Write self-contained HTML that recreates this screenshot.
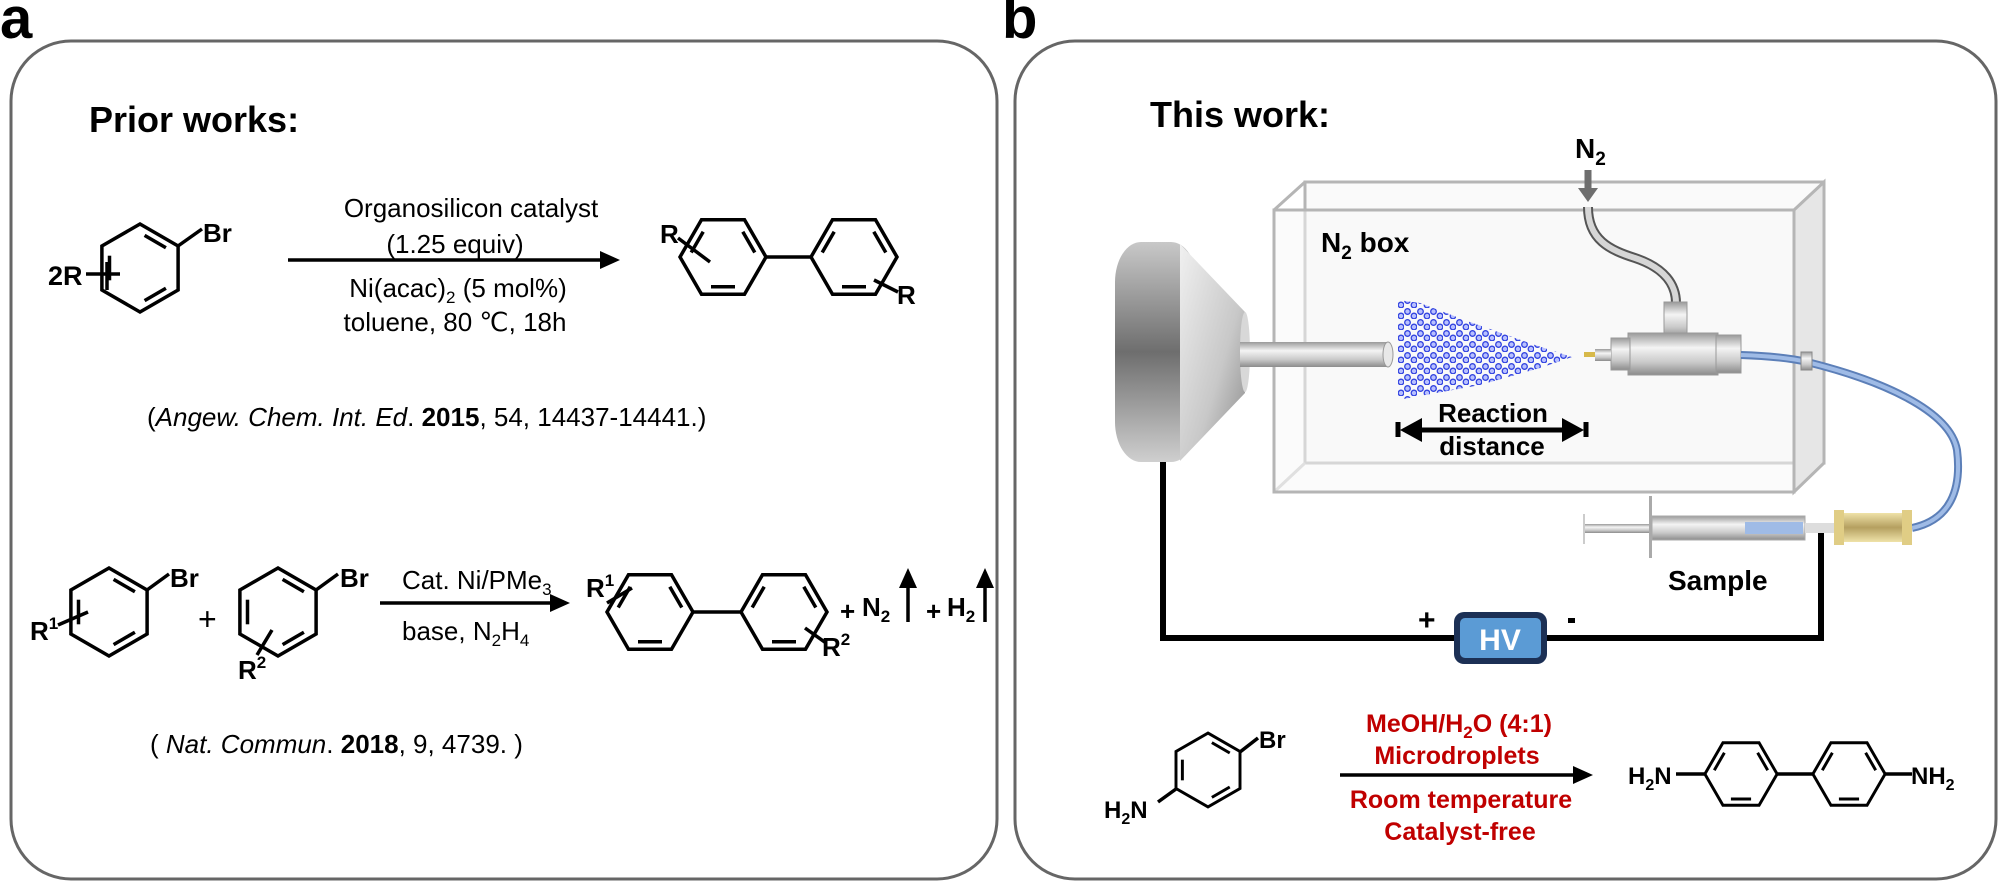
<!DOCTYPE html>
<html><head><meta charset="utf-8"><style>
html,body{margin:0;padding:0;background:#fff;}
svg{display:block;font-family:"Liberation Sans",Arial,sans-serif;}
</style></head><body>
<svg width="2000" height="884" viewBox="0 0 2000 884" xmlns="http://www.w3.org/2000/svg">
<defs>
  <g id="hp" fill="none" stroke="#000" stroke-width="3.5" stroke-linejoin="miter">
    <polygon points="0,-44 38.1,-22 38.1,22 0,44 -38.1,22 -38.1,-22"/>
    <line x1="4.6" y1="-32.6" x2="25.9" y2="-20.2"/>
    <line x1="25.9" y1="20.2" x2="4.6" y2="32.6"/>
    <line x1="-30.5" y1="12.3" x2="-30.5" y2="-12.3"/>
  </g>
  <g id="hf" fill="none" stroke="#000" stroke-width="3.5">
    <polygon points="43,0 21.5,37.2 -21.5,37.2 -43,0 -21.5,-37.2 21.5,-37.2"/>
    <line x1="19.8" y1="-25.3" x2="31.8" y2="-4.5"/>
    <line x1="12" y1="29.8" x2="-12" y2="29.8"/>
    <line x1="-31.8" y1="-4.5" x2="-19.8" y2="-25.3"/>
  </g>
  <marker id="ah" markerWidth="8" markerHeight="8" refX="7" refY="4" orient="auto" markerUnits="userSpaceOnUse">
  </marker>
  <linearGradient id="disk" x1="0" y1="0" x2="0" y2="1">
    <stop offset="0" stop-color="#c8c8c8"/><stop offset="0.5" stop-color="#6e6e6e"/><stop offset="1" stop-color="#cfcfcf"/>
  </linearGradient>
  <linearGradient id="cone" x1="0" y1="0" x2="1" y2="1">
    <stop offset="0" stop-color="#f0f0f0"/><stop offset="0.6" stop-color="#c8c8c8"/><stop offset="1" stop-color="#8a8a8a"/>
  </linearGradient>
  <linearGradient id="rod" x1="0" y1="0" x2="0" y2="1">
    <stop offset="0" stop-color="#9a9a9a"/><stop offset="0.35" stop-color="#f4f4f4"/><stop offset="0.7" stop-color="#c9c9c9"/><stop offset="1" stop-color="#8c8c8c"/>
  </linearGradient>
  <linearGradient id="gold" x1="0" y1="0" x2="0" y2="1">
    <stop offset="0" stop-color="#efe2a8"/><stop offset="0.5" stop-color="#b5a060"/><stop offset="1" stop-color="#efe2a8"/>
  </linearGradient>
  <pattern id="drops" width="13" height="11" patternUnits="userSpaceOnUse">
    <circle cx="3.5" cy="3.5" r="2.8" fill="#b8c0ff" stroke="#3344e0" stroke-width="1.3"/>
    <circle cx="10" cy="8" r="2.8" fill="#b8c0ff" stroke="#3344e0" stroke-width="1.3"/>
  </pattern>
</defs>

<!-- Panel a -->
<text x="0" y="38" font-size="58" font-weight="bold">a</text>
<rect x="11" y="41" width="986" height="838" rx="60" fill="none" stroke="#666" stroke-width="3"/>
<text x="89" y="132" font-size="36" font-weight="bold">Prior works:</text>

<!-- reaction 1 -->
<use href="#hp" x="140" y="268"/>
<line x1="178" y1="246" x2="202" y2="229" stroke="#000" stroke-width="3.5"/>
<text x="203" y="242" font-size="26" font-weight="bold">Br</text>
<text x="48" y="285" font-size="27" font-weight="bold">2R</text>
<line x1="86" y1="274" x2="120" y2="274" stroke="#000" stroke-width="3.5"/>
<line x1="107" y1="262" x2="107" y2="290" stroke="#000" stroke-width="3.5"/>
<line x1="288" y1="260" x2="605" y2="260" stroke="#000" stroke-width="3.5"/>
<polygon points="620,260 600,251 600,269" fill="#000"/>
<g font-size="26" text-anchor="middle">
<text x="471" y="217">Organosilicon catalyst</text>
<text x="455" y="253">(1.25 equiv)</text>
<text x="458" y="297">Ni(acac)<tspan font-size="17" dy="6">2</tspan><tspan dy="-6"> (5 mol%)</tspan></text>
<text x="455" y="331">toluene, 80 ℃, 18h</text>
</g>
<use href="#hf" x="723" y="257"/>
<use href="#hf" x="854" y="257"/>
<line x1="766" y1="257" x2="811" y2="257" stroke="#000" stroke-width="3.5"/>
<text x="660" y="243" font-size="26" font-weight="bold">R</text>
<line x1="678" y1="238" x2="710" y2="262" stroke="#000" stroke-width="3.5"/>
<text x="897" y="304" font-size="26" font-weight="bold">R</text>
<line x1="874" y1="280" x2="898" y2="292" stroke="#000" stroke-width="3.5"/>
<text x="147" y="426" font-size="26">(<tspan font-style="italic">Angew. Chem. Int. Ed</tspan>. <tspan font-weight="bold">2015</tspan>, 54, 14437-14441.)</text>

<!-- reaction 2 -->
<use href="#hp" x="109" y="612"/>
<line x1="147" y1="590" x2="169" y2="574" stroke="#000" stroke-width="3.5"/>
<text x="170" y="587" font-size="26" font-weight="bold">Br</text>
<text x="30" y="640" font-size="26" font-weight="bold">R<tspan font-size="17" dy="-11">1</tspan></text>
<line x1="58" y1="625" x2="88" y2="612" stroke="#000" stroke-width="3.5"/>
<text x="198" y="630" font-size="32">+</text>
<use href="#hp" x="278" y="612"/>
<line x1="316" y1="590" x2="338" y2="574" stroke="#000" stroke-width="3.5"/>
<text x="340" y="587" font-size="26" font-weight="bold">Br</text>
<text x="238" y="679" font-size="26" font-weight="bold">R<tspan font-size="17" dy="-11">2</tspan></text>
<line x1="257" y1="655" x2="272" y2="630" stroke="#000" stroke-width="3.5"/>
<line x1="380" y1="603" x2="555" y2="603" stroke="#000" stroke-width="3.5"/>
<polygon points="570,603 550,594 550,612" fill="#000"/>
<text x="402" y="589" font-size="26">Cat. Ni/PMe<tspan font-size="17" dy="6">3</tspan></text>
<text x="402" y="640" font-size="26">base, N<tspan font-size="17" dy="6">2</tspan><tspan dy="-6">H</tspan><tspan font-size="17" dy="6">4</tspan></text>
<use href="#hf" x="650" y="612"/>
<use href="#hf" x="784" y="612"/>
<line x1="693" y1="612" x2="741" y2="612" stroke="#000" stroke-width="3.5"/>
<text x="586" y="597" font-size="26" font-weight="bold">R<tspan font-size="17" dy="-11">1</tspan></text>
<line x1="607" y1="603" x2="632" y2="588" stroke="#000" stroke-width="3.5"/>
<text x="822" y="656" font-size="26" font-weight="bold">R<tspan font-size="17" dy="-11">2</tspan></text>
<line x1="805" y1="628" x2="826" y2="643" stroke="#000" stroke-width="3.5"/>
<text x="840" y="620" font-size="26" font-weight="bold">+</text>
<text x="862" y="616" font-size="26" font-weight="bold">N<tspan font-size="17" dy="6">2</tspan></text>
<line x1="908" y1="622" x2="908" y2="582" stroke="#000" stroke-width="3.5"/>
<polygon points="908,568 899,588 917,588" fill="#000"/>
<text x="926" y="620" font-size="26" font-weight="bold">+</text>
<text x="947" y="616" font-size="26" font-weight="bold">H<tspan font-size="17" dy="6">2</tspan></text>
<line x1="985" y1="622" x2="985" y2="582" stroke="#000" stroke-width="3.5"/>
<polygon points="985,568 976,588 994,588" fill="#000"/>
<text x="150" y="753" font-size="26">( <tspan font-style="italic">Nat. Commun</tspan>. <tspan font-weight="bold">2018</tspan>, 9, 4739. )</text>

<!-- Panel b -->
<text x="1002" y="38" font-size="58" font-weight="bold">b</text>
<rect x="1015" y="41" width="981" height="838" rx="60" fill="none" stroke="#666" stroke-width="3"/>
<text x="1150" y="127" font-size="36" font-weight="bold">This work:</text>

<!-- box back -->
<rect x="1305" y="182" width="519" height="281" fill="#fafafa" stroke="#b5b5b5" stroke-width="3"/>
<polygon points="1794,210 1824,182 1824,463 1794,492" fill="#e6e6e6" stroke="#b5b5b5" stroke-width="3"/>
<line x1="1274" y1="210" x2="1305" y2="182" stroke="#b5b5b5" stroke-width="3"/>
<line x1="1274" y1="492" x2="1305" y2="463" stroke="#c8c8c8" stroke-width="3"/>
<rect x="1274" y="210" width="520" height="282" fill="rgba(248,248,248,0.5)" stroke="#b5b5b5" stroke-width="3"/>
<text x="1321" y="252" font-size="28" font-weight="bold">N<tspan font-size="19" dy="7">2</tspan><tspan dy="-7"> box</tspan></text>

<!-- wire -->
<polyline points="1163,460 1163,638 1821,638 1821,528" fill="none" stroke="#000" stroke-width="6"/>

<!-- disk & cone -->
<rect x="1115" y="242" width="82" height="220" rx="26" ry="40" fill="url(#disk)"/>
<polygon points="1180,244 1245,312 1245,393 1180,461" fill="url(#cone)"/>
<ellipse cx="1245" cy="352" rx="5" ry="40" fill="#d8d8d8"/>
<rect x="1240" y="342" width="148" height="25" fill="url(#rod)"/>
<ellipse cx="1388" cy="354.5" rx="5" ry="12.5" fill="#e8e8e8" stroke="#999" stroke-width="1"/>

<!-- droplets -->
<polygon points="1398,300 1420,303 1470,322 1535,345 1572,357 1540,368 1480,385 1420,396 1398,400" fill="url(#drops)"/>

<!-- N2 inlet -->
<text x="1575" y="158" font-size="28" font-weight="bold">N<tspan font-size="19" dy="7">2</tspan></text>
<line x1="1588" y1="170" x2="1588" y2="190" stroke="#6e6e6e" stroke-width="7"/>
<polygon points="1578,188 1598,188 1588,202" fill="#6e6e6e"/>
<path d="M1588,207 C1588,240 1610,250 1635,258 C1665,268 1676,285 1676,303" fill="none" stroke="#555" stroke-width="10"/>
<path d="M1588,207 C1588,240 1610,250 1635,258 C1665,268 1676,285 1676,303" fill="none" stroke="#d6d6d6" stroke-width="6"/>
<rect x="1664" y="302" width="23" height="36" fill="url(#rod)" stroke="#999" stroke-width="1"/>
<rect x="1628" y="333" width="90" height="42" fill="url(#rod)" stroke="#999" stroke-width="1"/>
<rect x="1611" y="338" width="19" height="32" fill="url(#rod)" stroke="#999" stroke-width="1"/>
<rect x="1716" y="335" width="25" height="38" fill="url(#rod)" stroke="#999" stroke-width="1"/>
<rect x="1595" y="349" width="16" height="12" fill="url(#rod)"/>
<rect x="1584" y="352" width="11" height="5" fill="#d7b94a"/>

<!-- blue tube -->
<path d="M1741,355 C1770,356 1790,358 1807,362 C1880,380 1950,410 1957,450 C1962,490 1950,520 1912,528" fill="none" stroke="#5c7fb8" stroke-width="8"/>
<path d="M1741,355 C1770,356 1790,358 1807,362 C1880,380 1950,410 1957,450 C1962,490 1950,520 1912,528" fill="none" stroke="#9fbbe6" stroke-width="4"/>
<rect x="1801" y="352" width="11" height="18" fill="url(#rod)" stroke="#888" stroke-width="1"/>

<!-- syringe -->
<rect x="1584" y="524" width="70" height="9" fill="url(#rod)"/>
<line x1="1584" y1="514" x2="1584" y2="544" stroke="#ccc" stroke-width="2"/>
<rect x="1649" y="496" width="3" height="62" fill="#aaa"/>
<rect x="1652" y="516" width="153" height="24" fill="url(#rod)" stroke="#aaa" stroke-width="1"/>
<rect x="1745" y="522" width="58" height="12" fill="#9fbbe6"/>
<rect x="1805" y="523" width="30" height="10" fill="#ddd"/>
<rect x="1834" y="513" width="78" height="29" fill="url(#gold)"/>
<rect x="1834" y="510" width="10" height="35" fill="#e0cd85"/>
<rect x="1902" y="510" width="10" height="35" fill="#e0cd85"/>
<text x="1668" y="590" font-size="28" font-weight="bold">Sample</text>

<!-- HV -->
<rect x="1454" y="612" width="93" height="52" rx="10" fill="#1c3055"/>
<rect x="1460" y="618" width="81" height="40" rx="5" fill="#5b9bd5"/>
<text x="1500" y="650" font-size="30" font-weight="bold" fill="#fff" text-anchor="middle">HV</text>
<text x="1418" y="630" font-size="30" font-weight="bold">+</text>
<rect x="1568" y="618" width="7" height="5" fill="#000"/>

<!-- Reaction distance -->
<line x1="1398" y1="422" x2="1398" y2="437" stroke="#000" stroke-width="5"/>
<line x1="1586" y1="422" x2="1586" y2="437" stroke="#000" stroke-width="5"/>
<line x1="1415" y1="430" x2="1570" y2="430" stroke="#000" stroke-width="5"/>
<polygon points="1400,430 1422,418 1422,442" fill="#000"/>
<polygon points="1584,430 1562,418 1562,442" fill="#000"/>
<text x="1493" y="422" font-size="26" font-weight="bold" text-anchor="middle">Reaction</text>
<text x="1492" y="455" font-size="26" font-weight="bold" text-anchor="middle">distance</text>

<!-- bottom reaction -->
<g transform="translate(1208,770) scale(0.84)"><use href="#hp"/></g>
<line x1="1240" y1="752" x2="1258" y2="738" stroke="#000" stroke-width="3.5"/>
<text x="1259" y="748" font-size="24" font-weight="bold">Br</text>
<line x1="1176" y1="789" x2="1158" y2="802" stroke="#000" stroke-width="3.5"/>
<text x="1104" y="818" font-size="24" font-weight="bold">H<tspan font-size="16" dy="6">2</tspan><tspan dy="-6">N</tspan></text>
<line x1="1340" y1="775" x2="1578" y2="775" stroke="#000" stroke-width="3.5"/>
<polygon points="1593,775 1573,766 1573,784" fill="#000"/>
<g font-size="25" font-weight="bold" fill="#c00000" text-anchor="middle">
<text x="1459" y="732">MeOH/H<tspan font-size="17" dy="6">2</tspan><tspan dy="-6">O (4:1)</tspan></text>
<text x="1457" y="764">Microdroplets</text>
<text x="1461" y="808">Room temperature</text>
<text x="1460" y="840">Catalyst-free</text>
</g>
<text x="1628" y="784" font-size="24" font-weight="bold">H<tspan font-size="16" dy="6">2</tspan><tspan dy="-6">N</tspan></text>
<line x1="1676" y1="774" x2="1705" y2="774" stroke="#000" stroke-width="3.5"/>
<g transform="translate(1741,774) scale(0.84)"><use href="#hf"/></g>
<g transform="translate(1849,774) scale(0.84)"><use href="#hf"/></g>
<line x1="1777" y1="774" x2="1813" y2="774" stroke="#000" stroke-width="3.5"/>
<line x1="1885" y1="774" x2="1912" y2="774" stroke="#000" stroke-width="3.5"/>
<text x="1911" y="784" font-size="24" font-weight="bold">NH<tspan font-size="16" dy="6">2</tspan></text>
</svg>
</body></html>
